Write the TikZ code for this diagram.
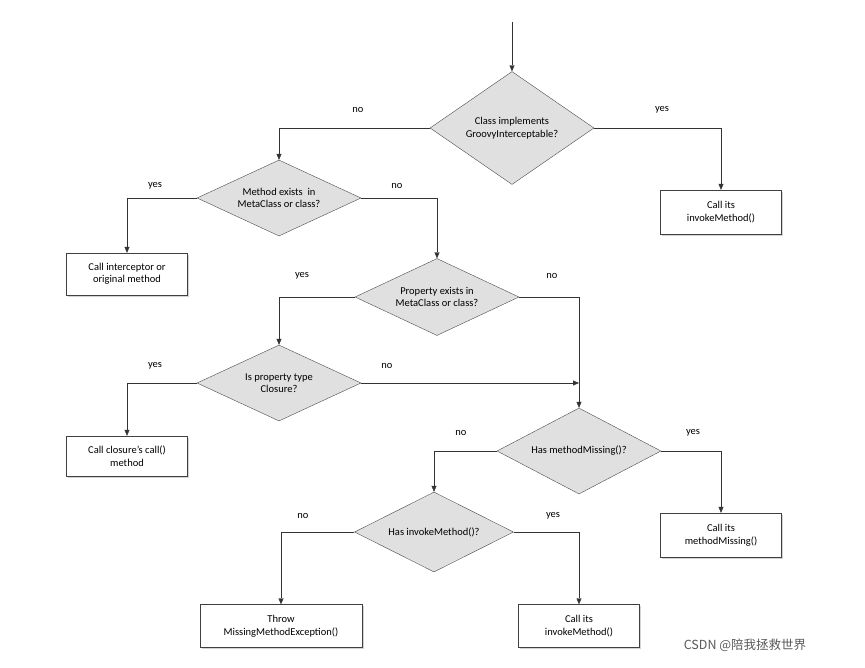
\documentclass[tikz,border=0pt]{standalone}
\usepackage{fontspec}
\setmainfont{Carlito}
\newfontfamily\cjk{Noto Sans CJK SC}
\usetikzlibrary{shapes.geometric,arrows.meta,shadows}
\begin{document}
\begin{tikzpicture}[x=1pt,y=-1pt,font=\fontsize{10.5}{12.5}\selectfont,
  dec/.style={diamond,draw=black!70,fill=black!12,aspect=2.2,inner sep=0pt,align=center},
  act/.style={rectangle,draw=black!75,fill=white,align=center,drop shadow={shadow xshift=1.5pt,shadow yshift=-1.5pt,opacity=.35}},
  arr/.style={draw=black!80,-{Triangle[length=6pt,width=5pt]}},
  lab/.style={font=\fontsize{10.5}{12}\selectfont}]
\useasboundingbox (0,0) rectangle (865,667);
\node[dec,minimum width=164pt,minimum height=113pt] (d1) at (512,128) {Class implements\\GroovyInterceptable?};
\node[dec,minimum width=164pt,minimum height=76pt] (d2) at (279,198) {Method exists\ \ in\\MetaClass or class?};
\node[dec,minimum width=164pt,minimum height=77pt] (d3) at (437,297) {Property exists in\\MetaClass or class?};
\node[dec,minimum width=164pt,minimum height=76pt] (d4) at (279,383) {Is property type\\Closure?};
\node[dec,minimum width=164pt,minimum height=86pt] (d5) at (579,451) {Has methodMissing()?};
\node[dec,minimum width=159pt,minimum height=80pt] (d6) at (434,532) {Has invokeMethod()?};
\node[act,minimum width=121pt,minimum height=44pt] (b1) at (721,212) {Call its\\invokeMethod()};
\node[act,minimum width=121pt,minimum height=42pt] (b2) at (127,274) {Call interceptor or\\original method};
\node[act,minimum width=121pt,minimum height=40pt] (b3) at (127,456) {Call closure's call()\\method};
\node[act,minimum width=121pt,minimum height=44pt] (b4) at (721,535) {Call its\\methodMissing()};
\node[act,minimum width=162pt,minimum height=43pt] (b5) at (281,626) {Throw\\MissingMethodException()};
\node[act,minimum width=121pt,minimum height=43pt] (b6) at (579,626) {Call its\\invokeMethod()};
\coordinate (top) at (512,22);
\coordinate (join) at (579,383);
\draw[arr] (top) -- (d1.north);
\draw[arr] (d1.west) -| (d2.north);
\draw[arr] (d1.east) -| (b1.north);
\draw[arr] (d2.west) -| (b2.north);
\draw[arr] (d2.east) -| (d3.north);
\draw[arr] (d3.west) -| (d4.north);
\draw[arr] (d3.east) -| (d5.north);
\draw[arr] (d4.west) -| (b3.north);
\draw[arr] (d4.east) -- (join);
\draw[arr] (d5.west) -| (d6.north);
\draw[arr] (d5.east) -| (b4.north);
\draw[arr] (d6.west) -| (b5.north);
\draw[arr] (d6.east) -| (b6.north);
\node[lab] (l1) at (358,110) {no};
\node[lab] (l2) at (662,110) {yes};
\node[lab] (l3) at (155,186) {yes};
\node[lab] (l4) at (397,186) {no};
\node[lab] (l5) at (302,276) {yes};
\node[lab] (l6) at (552,276) {no};
\node[lab] (l7) at (155,366) {yes};
\node[lab] (l8) at (387,366) {no};
\node[lab] (l9) at (461,433) {no};
\node[lab] (l10) at (693,433) {yes};
\node[lab] (l11) at (303,516) {no};
\node[lab] (l12) at (553,516) {yes};
\node[font=\cjk\fontsize{12.5}{14}\selectfont,text=black!65] (wm) at (745,645) {CSDN @陪我拯救世界};
\end{tikzpicture}
\end{document}
